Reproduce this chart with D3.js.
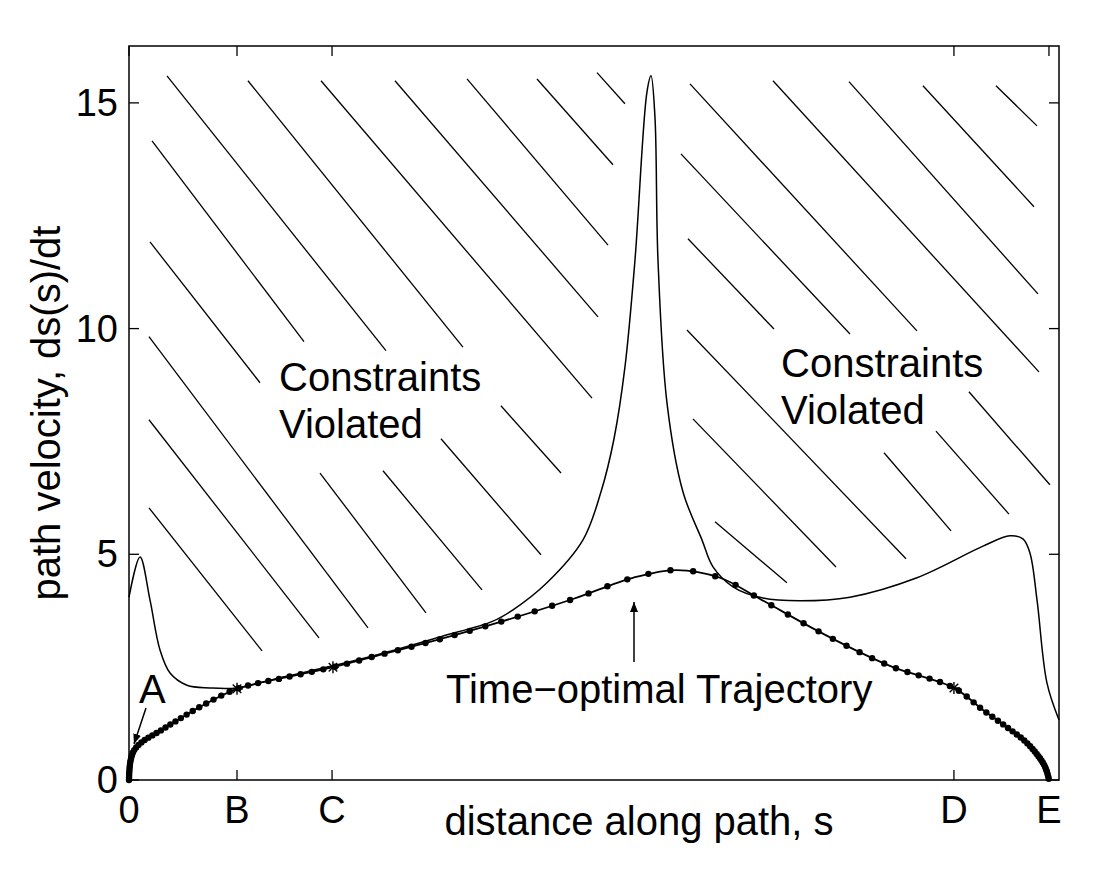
<!DOCTYPE html>
<html>
<head>
<meta charset="utf-8">
<script src="https://cdn.jsdelivr.net/npm/d3@7"></script>
<style>
  body { margin: 0; background: #fff; }
  text { font-family: "Liberation Sans", Arial, sans-serif; fill: #000; }
</style>
</head>
<body>
<div id="chart"></div>
<script>
const width = 1100;
const height = 888;
const margin = { left: 129, top: 46, right: 41, bottom: 108 };

// s positions of the labelled ticks
const xTickValues = [0, 0.1174, 0.2207, 0.8967, 1];
const xTickLabels = ["0", "B", "C", "D", "E"];
const yTickValues = [0, 5, 10, 15];

// time-optimal trajectory [s, ds/dt]
const trajectory = [
  [0, 0], [0.0004, 0.20], [0.0016, 0.42], [0.0045, 0.62], [0.0095, 0.76],
  [0.0165, 0.88], [0.0315, 1.06], [0.0587, 1.40], [0.0772, 1.62], [0.1174, 2.02],
  [0.1674, 2.26], [0.2217, 2.50], [0.2761, 2.79], [0.338, 3.12], [0.4065, 3.52],
  [0.4826, 4.01], [0.5478, 4.48], [0.5946, 4.65], [0.6424, 4.48], [0.6859, 4.01],
  [0.7424, 3.37], [0.7913, 2.86], [0.8304, 2.50], [0.8967, 2.04], [0.9283, 1.55],
  [0.9543, 1.17], [0.9761, 0.82], [0.9935, 0.38], [0.9978, 0.18], [1, 0]
];

// constraint boundary [s, ds/dt]
const constraint = [
  [0, 4.05], [0.012, 4.94], [0.0228, 3.99], [0.0337, 2.88], [0.0446, 2.37],
  [0.063, 2.10], [0.088, 2.04], [0.1174, 2.04], [0.1674, 2.28], [0.2217, 2.53],
  [0.2761, 2.81], [0.338, 3.17], [0.3957, 3.52], [0.4174, 3.77], [0.4543, 4.37],
  [0.4935, 5.32], [0.513, 6.38], [0.5272, 7.56], [0.5391, 9.15], [0.55, 11.52],
  [0.563, 15.24], [0.5674, 15.6], [0.5717, 14.69], [0.575, 11.52], [0.5848, 8.35],
  [0.6022, 6.38], [0.6228, 5.32], [0.6348, 4.72], [0.6565, 4.28], [0.6891, 4.03],
  [0.7293, 3.97], [0.7837, 4.05], [0.8565, 4.48], [0.9283, 5.18], [0.9576, 5.41],
  [0.9717, 5.34], [0.9793, 5.03], [0.987, 3.99], [0.9978, 2.15], [1.0109, 1.33]
];

// switching points (stars) at B, C, D
const switchPoints = [[0.1174, 2.02], [0.2217, 2.50], [0.8967, 2.04]];

// hatch strokes in the violated regions [s1, v1, s2, v2]
const hatchLines = [
  [0.0413, 15.60, 0.2793, 9.51], [0.1293, 15.49, 0.3630, 9.59],
  [0.2087, 15.49, 0.5033, 8.46], [0.2891, 15.49, 0.5098, 10.26],
  [0.3674, 15.53, 0.5207, 11.85], [0.4435, 15.53, 0.5261, 13.63],
  [0.5087, 15.67, 0.5391, 14.98], [0.025, 14.16, 0.1902, 9.71],
  [0.0228, 11.92, 0.1424, 8.80], [0.0217, 9.82, 0.2598, 3.37],
  [0.0217, 7.98, 0.2065, 3.15], [0.0217, 6.03, 0.1446, 2.86],
  [0.4043, 8.29, 0.4696, 6.80], [0.3391, 7.56, 0.4478, 4.99],
  [0.2761, 6.85, 0.3837, 4.21], [0.2076, 6.80, 0.3228, 3.70],
  [0.6098, 15.42, 0.8565, 9.95], [0.70, 15.49, 0.9891, 9.04],
  [0.7826, 15.47, 0.988, 10.77], [0.863, 15.38, 0.9837, 12.70],
  [0.9424, 15.38, 0.987, 14.49], [0.60, 13.87, 0.7837, 9.88],
  [0.6076, 11.99, 0.7011, 9.99], [0.6065, 9.97, 0.8446, 4.90],
  [0.613, 8.00, 0.7685, 4.72], [0.637, 5.72, 0.7152, 4.37],
  [0.8207, 7.25, 0.8935, 5.52], [0.8772, 7.73, 0.9565, 5.89],
  [0.913, 8.60, 1.001, 6.54]
];

const svg = d3.select("#chart").append("svg")
  .attr("width", width)
  .attr("height", height);

const plotW = width - margin.left - margin.right;
const plotH = height - margin.top - margin.bottom;
const xMax = 1.0109;
const yMax = 16.26;

const x = d3.scaleLinear().domain([0, xMax]).range([margin.left, margin.left + plotW]);
const y = d3.scaleLinear().domain([0, yMax]).range([margin.top + plotH, margin.top]);

// Hatching
svg.append("g").selectAll("line")
  .data(hatchLines)
  .enter()
  .append("line")
  .attr("x1", d => x(d[0])).attr("y1", d => y(d[1]))
  .attr("x2", d => x(d[2])).attr("y2", d => y(d[3]))
  .attr("stroke", "#000")
  .attr("stroke-width", 1.3);

const line = d3.line()
  .x(d => x(d[0]))
  .y(d => y(d[1]))
  .curve(d3.curveCatmullRom);

// Constraint curve
svg.append("path")
  .attr("d", line(constraint))
  .attr("fill", "none")
  .attr("stroke", "#000")
  .attr("stroke-width", 1.5);

// Trajectory
const trajPath = svg.append("path")
  .attr("d", line(trajectory))
  .attr("fill", "none")
  .attr("stroke", "#000")
  .attr("stroke-width", 1.8);

// dots at roughly equal time steps along the trajectory
const node = trajPath.node();
const total = node.getTotalLength();
const dots = [];
for (let l = 0; l <= total;) {
  let p = node.getPointAtLength(l);
  dots.push(p);
  let v = y.invert(p.y);
  l += Math.max(2.5, 4.9 * v);
}
svg.append("g").selectAll("circle")
  .data(dots)
  .enter()
  .append("circle")
  .attr("cx", d => d.x)
  .attr("cy", d => d.y)
  .attr("r", 3.2)
  .attr("fill", "#000");

// Stars
const stars = svg.append("g").attr("stroke", "#000").attr("stroke-width", 1.4);
switchPoints.forEach(function (d) {
  let cx = x(d[0]), cy = y(d[1]), r = 6;
  [0, 45, 90, 135].forEach(function (a) {
    let rad = a * Math.PI / 180;
    stars.append("line")
      .attr("x1", cx - r * Math.cos(rad)).attr("y1", cy - r * Math.sin(rad))
      .attr("x2", cx + r * Math.cos(rad)).attr("y2", cy + r * Math.sin(rad));
  });
});

// Frame
svg.append("rect")
  .attr("x", margin.left).attr("y", margin.top)
  .attr("width", plotW).attr("height", plotH)
  .attr("fill", "none")
  .attr("stroke", "#000")
  .attr("stroke-width", 1.5);

// Ticks (inward, on all four sides)
const tickLen = 10;
const ticks = svg.append("g").attr("stroke", "#000").attr("stroke-width", 1.3);
xTickValues.forEach(function (v) {
  ticks.append("line").attr("x1", x(v)).attr("x2", x(v))
    .attr("y1", y(0)).attr("y2", y(0) - tickLen);
  ticks.append("line").attr("x1", x(v)).attr("x2", x(v))
    .attr("y1", y(yMax)).attr("y2", y(yMax) + tickLen);
});
yTickValues.forEach(function (v) {
  ticks.append("line").attr("x1", x(0)).attr("x2", x(0) + tickLen)
    .attr("y1", y(v)).attr("y2", y(v));
  ticks.append("line").attr("x1", x(xMax)).attr("x2", x(xMax) - tickLen)
    .attr("y1", y(v)).attr("y2", y(v));
});

// Tick labels
const tickFont = 38;
svg.append("g").selectAll("text")
  .data(xTickValues)
  .enter()
  .append("text")
  .attr("x", d => x(d))
  .attr("y", y(0) + 43)
  .attr("text-anchor", "middle")
  .style("font-size", `${tickFont}px`)
  .text((d, i) => xTickLabels[i]);

svg.append("g").selectAll("text")
  .data(yTickValues)
  .enter()
  .append("text")
  .attr("x", x(0) - 11)
  .attr("y", d => y(d) + 13)
  .attr("text-anchor", "end")
  .style("font-size", `${tickFont}px`)
  .text(d => d);

// Axis labels
const labelFont = 40;
svg.append("text")
  .attr("x", 639)
  .attr("y", 835)
  .attr("text-anchor", "middle")
  .style("font-size", `${labelFont}px`)
  .text("distance along path, s");

svg.append("text")
  .attr("transform", "translate(60,413) rotate(-90)")
  .attr("text-anchor", "middle")
  .style("font-size", `${labelFont}px`)
  .text("path velocity, ds(s)/dt");

// Annotations
function addLines(px, py, lines) {
  lines.forEach(function (t, i) {
    svg.append("text")
      .attr("x", px)
      .attr("y", py + i * 47)
      .style("font-size", `${labelFont}px`)
      .text(t);
  });
}
addLines(279, 391, ["Constraints", "Violated"]);
addLines(781, 377, ["Constraints", "Violated"]);

svg.append("text")
  .attr("x", 446)
  .attr("y", 703)
  .style("font-size", `${labelFont}px`)
  .text("Time\u2212optimal Trajectory");

svg.append("text")
  .attr("x", 139)
  .attr("y", 703)
  .style("font-size", `${labelFont}px`)
  .text("A");

// arrows
svg.append("defs").append("marker")
  .attr("id", "head")
  .attr("viewBox", "0 0 10 10")
  .attr("refX", 10).attr("refY", 5)
  .attr("markerWidth", 10).attr("markerHeight", 10)
  .attr("markerUnits", "userSpaceOnUse")
  .attr("orient", "auto")
  .append("path")
  .attr("d", "M0,1 L10,5 L0,9 Z")
  .attr("fill", "#000");

svg.append("line")
  .attr("x1", 634).attr("y1", 662).attr("x2", 634).attr("y2", 602)
  .attr("stroke", "#000").attr("stroke-width", 1.5)
  .attr("marker-end", "url(#head)");

svg.append("line")
  .attr("x1", 146).attr("y1", 708).attr("x2", 134).attr("y2", 744)
  .attr("stroke", "#000").attr("stroke-width", 1.5)
  .attr("marker-end", "url(#head)");
</script>
</body>
</html>
